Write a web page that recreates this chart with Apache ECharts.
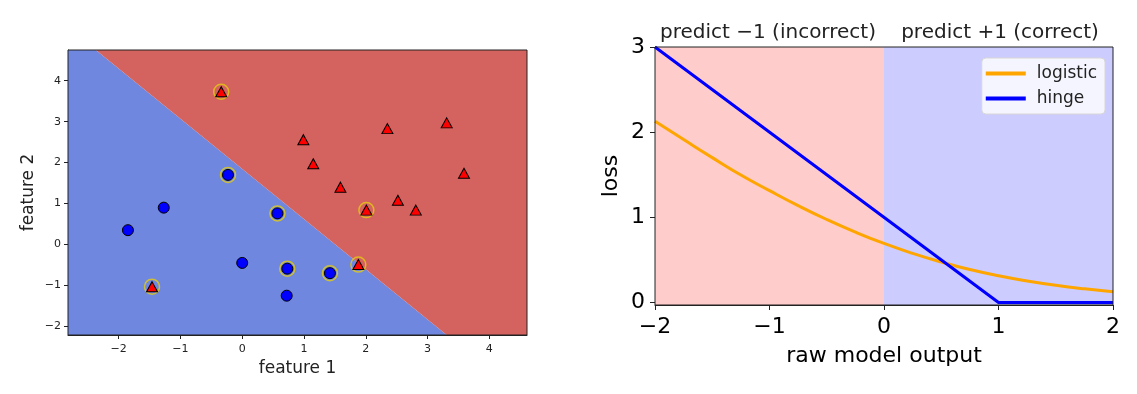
<!DOCTYPE html>
<html><head><meta charset="utf-8">
<script src="https://cdn.jsdelivr.net/npm/echarts@6/dist/echarts.min.js"></script>
<style>html,body{margin:0;padding:0;background:#fff}#c{width:1137px;height:394px}</style>
</head><body><div id="c"></div>
<script>
// ---- Left panel data (SVM decision regions) ----
const blueClass = [[-1.85,0.35],[-1.27,0.9],[-0.23,1.7],[0.0,-0.45],[0.57,0.76],[0.73,-0.59],[0.72,-1.25],[1.42,-0.7]];
const redClass = [[-1.46,-1.03],[-0.34,3.73],[0.99,2.56],[1.15,1.97],[1.59,1.40],[2.01,0.84],[1.88,-0.49],[2.35,2.83],[2.52,1.08],[2.81,0.84],[3.31,2.97],[3.59,1.74]];
const supportVectors = [[-0.23,1.7],[0.57,0.76],[0.73,-0.59],[1.42,-0.7],[-1.46,-1.03],[-0.34,3.73],[2.01,0.84],[1.88,-0.49]];
const leftXRange = [-2.82, 4.61];
const leftYRange = [-2.21, 4.75];
const boundaryX = [-2.37, 3.31];   // x where boundary meets top and bottom
const leftTicksX = [-2,-1,0,1,2,3,4];
const leftTicksY = [-2,-1,0,1,2,3,4];

// ---- Right panel data (loss functions) ----
const rawOutput = [-2,-1.75,-1.5,-1.25,-1,-0.75,-0.5,-0.25,0,0.25,0.5,0.75,1,1.25,1.5,1.75,2];
const logisticLoss = [2.127,1.913,1.701,1.496,1.313,1.137,0.974,0.826,0.693,0.576,0.474,0.386,0.313,0.252,0.201,0.160,0.127];
const hingeX = [-2, 1, 2];
const hingeY = [3, 0, 0];
const rightXTicks = [-2,-1,0,1,2];
const rightYTicks = [0,1,2,3];
const rightYRange = [-0.03, 3.0];
const regionSplit = [-2, 0, 2];
const regionTitles = ['predict \u22121 (incorrect)', 'predict +1 (correct)'];

const FONT = 'DejaVu Sans';
const fmt = v => String(v).replace('-', '\u2212');

function regionPoly(which) {
  const [x0, x1] = leftXRange, [y0, y1] = leftYRange;
  const [bt, bb] = boundaryX;
  return which === 'blue'
    ? [[x0,y0],[x0,y1],[bt,y1],[bb,y0]]
    : [[bt,y1],[x1,y1],[x1,y0],[bb,y0]];
}
function regionSeries(which, color) {
  return {
    type: 'custom', xAxisIndex: 0, yAxisIndex: 0, clip: true, z: 1, silent: true,
    data: [0],
    renderItem: (params, api) => ({
      type: 'polygon',
      shape: { points: regionPoly(which).map(p => api.coord(p)) },
      style: { fill: color, stroke: null }
    })
  };
}

const chart = echarts.init(document.getElementById('c'));
chart.setOption({
  animation: false,
  backgroundColor: '#fff',
  grid: [
    { left: 68, top: 50, width: 459, height: 285, show: true, z: 10, backgroundColor: 'rgba(0,0,0,0)', borderColor: '#222', borderWidth: 1 },
    { left: 655, top: 47, width: 458, height: 258, show: true, z: 10, backgroundColor: 'rgba(0,0,0,0)', borderColor: '#222', borderWidth: 1 }
  ],
  xAxis: [
    { gridIndex: 0, type: 'value', min: leftXRange[0], max: leftXRange[1],
      name: 'feature 1', nameLocation: 'middle', nameGap: 24,
      nameTextStyle: { fontSize: 17, fontFamily: FONT, color: '#222' },
      axisLine: { onZero: false, lineStyle: { color: '#222' } },
      axisTick: { customValues: leftTicksX, length: 4, lineStyle: { color: '#222' } },
      axisLabel: { customValues: leftTicksX, formatter: fmt, fontSize: 11, fontFamily: FONT, color: '#222', margin: 9 },
      splitLine: { show: false } },
    { gridIndex: 1, type: 'value', min: -2, max: 2, interval: 1,
      name: 'raw model output', nameLocation: 'middle', nameGap: 40,
      nameTextStyle: { fontSize: 22, fontFamily: FONT, color: '#000' },
      axisLine: { onZero: false, lineStyle: { color: '#222' } },
      axisTick: { customValues: rightXTicks, length: 5, lineStyle: { color: '#222' } },
      axisLabel: { customValues: rightXTicks, formatter: fmt, fontSize: 22, fontFamily: FONT, color: '#000', margin: 11 },
      splitLine: { show: false } }
  ],
  yAxis: [
    { gridIndex: 0, type: 'value', min: leftYRange[0], max: leftYRange[1],
      name: 'feature 2', nameLocation: 'middle', nameGap: 31,
      nameTextStyle: { fontSize: 17, fontFamily: FONT, color: '#222' },
      axisLine: { show: true, onZero: false, lineStyle: { color: '#222' } },
      axisTick: { show: true, customValues: leftTicksY, length: 4, lineStyle: { color: '#222' } },
      axisLabel: { customValues: leftTicksY, formatter: fmt, fontSize: 11, fontFamily: FONT, color: '#222', margin: 7 },
      splitLine: { show: false } },
    { gridIndex: 1, type: 'value', min: rightYRange[0], max: rightYRange[1],
      name: 'loss', nameLocation: 'middle', nameGap: 33,
      nameTextStyle: { fontSize: 22, fontFamily: FONT, color: '#000' },
      axisLine: { show: true, onZero: false, lineStyle: { color: '#222' } },
      axisTick: { show: true, customValues: rightYTicks, length: 5, lineStyle: { color: '#222' } },
      axisLabel: { customValues: rightYTicks, formatter: fmt, fontSize: 22, fontFamily: FONT, color: '#000', margin: 10 },
      splitLine: { show: false } }
  ],
  legend: {
    data: ['logistic', 'hinge'], orient: 'vertical', right: 32, top: 58,
    backgroundColor: 'rgba(255,255,255,0.8)', borderColor: '#d6d6d6', borderWidth: 1, borderRadius: 4,
    padding: [7, 8, 7, 4], itemWidth: 40, itemHeight: 4, itemGap: 8, icon: 'rect',
    textStyle: { fontSize: 17, fontFamily: FONT, color: '#222', padding: [0, 0, 0, 6] }
  },
  graphic: regionTitles.map((t, i) => ({
    type: 'text', x: i === 0 ? 768 : 1000, y: 33,
    style: { text: t, textAlign: 'center', textVerticalAlign: 'middle', font: '20px "DejaVu Sans"', fill: '#222' }
  })),
  series: [
    regionSeries('blue', '#6f87df'),
    regionSeries('red', '#d4625e'),
    { type: 'scatter', xAxisIndex: 0, yAxisIndex: 0, z: 3, data: supportVectors, symbol: 'circle', symbolSize: 15,
      itemStyle: { color: 'rgba(0,0,0,0)', borderColor: '#e4cc10', borderWidth: 1.5 }, silent: true },
    { type: 'scatter', xAxisIndex: 0, yAxisIndex: 0, z: 4, data: blueClass, symbol: 'circle', symbolSize: 11,
      itemStyle: { color: '#0000ff', borderColor: '#000', borderWidth: 1, opacity: 1 } },
    { type: 'scatter', xAxisIndex: 0, yAxisIndex: 0, z: 4, data: redClass, symbol: 'triangle', symbolSize: [11, 10],
      itemStyle: { color: '#ff0000', borderColor: '#000', borderWidth: 1, opacity: 1 } },
    { type: 'line', name: '_bg', xAxisIndex: 1, yAxisIndex: 1, data: [], z: 1, silent: true,
      markArea: { silent: true, data: [
        [{ xAxis: regionSplit[0], itemStyle: { color: '#ffcccc' } }, { xAxis: regionSplit[1] }],
        [{ xAxis: regionSplit[1], itemStyle: { color: '#ccccff' } }, { xAxis: regionSplit[2] }]
      ] } },
    { type: 'line', name: 'logistic', xAxisIndex: 1, yAxisIndex: 1, z: 3, smooth: true, showSymbol: false,
      data: rawOutput.map((x, i) => [x, logisticLoss[i]]),
      lineStyle: { color: '#ffa500', width: 3 }, itemStyle: { color: '#ffa500' } },
    { type: 'line', name: 'hinge', xAxisIndex: 1, yAxisIndex: 1, z: 4, showSymbol: false,
      data: hingeX.map((x, i) => [x, hingeY[i]]),
      lineStyle: { color: '#0000ff', width: 3 }, itemStyle: { color: '#0000ff' } }
  ]
});
</script></body></html>
